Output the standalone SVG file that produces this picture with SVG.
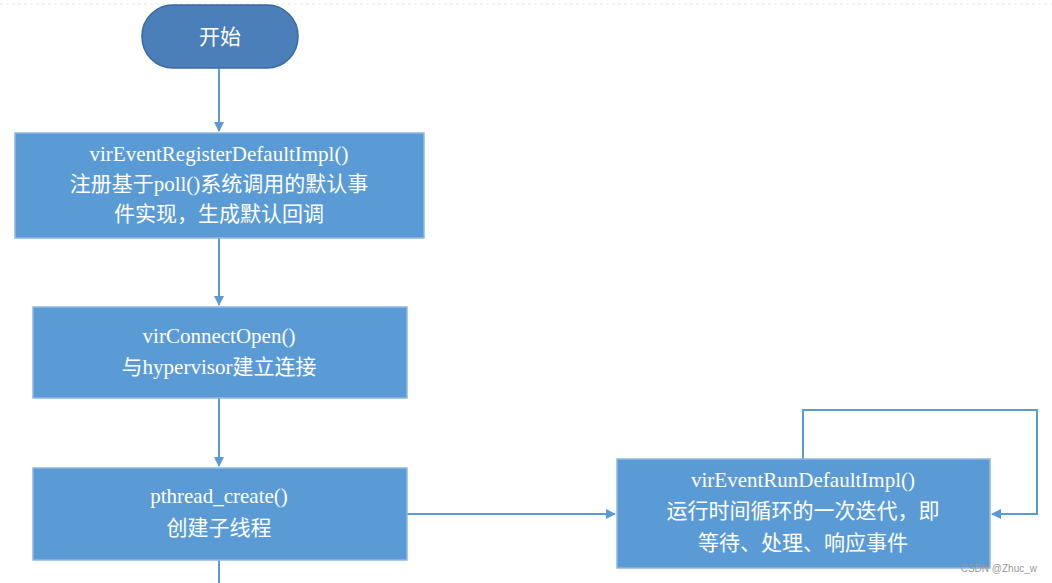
<svg xmlns="http://www.w3.org/2000/svg" width="1052" height="583" viewBox="0 0 1052 583">
<defs>
<style>
.box{fill:#5b9bd5;stroke:#8fb8e3;stroke-width:1.5}
.t{fill:#fff;font-family:"Liberation Serif","Noto Sans CJK SC",serif;font-size:21px;text-anchor:middle}
.m{font-family:"Liberation Mono","Noto Sans CJK SC",monospace}
.c{fill:none;stroke:#5b9bd5;stroke-width:2}
</style>
<marker id="a" markerWidth="10" markerHeight="10" refX="9" refY="5" orient="auto" markerUnits="userSpaceOnUse"><path d="M0,0 L10,5 L0,10 z" fill="#5b9bd5"/></marker>
</defs>
<rect width="1052" height="583" fill="#fff"/>
<line x1="0" y1="4" x2="1052" y2="4" stroke="#e6e6e6" stroke-dasharray="3,3"/>
<g id="connectors">
<path class="c" d="M219,69 V131" marker-end="url(#a)"/>
<path class="c" d="M219,238 V305" marker-end="url(#a)"/>
<path class="c" d="M219,398 V466" marker-end="url(#a)"/>
<path class="c" d="M219,560 V583"/>
<path class="c" d="M407,514 H615" marker-end="url(#a)"/>
<path class="c" d="M803,459 V410 H1037 V514 H992" marker-end="url(#a)"/>
</g>
<g id="start"><rect x="142" y="5" width="156" height="63" rx="31" fill="#4a7fb9" stroke="#3a6a9e" stroke-width="1.5"/><text class="t" x="220" y="44">开始</text></g>
<g id="n1"><rect class="box" x="15" y="133" width="409" height="105"/>
<text class="t" x="219" y="161">virEventRegisterDefaultImpl()</text>
<text class="t" x="219" y="191">注册基于poll()系统调用的默认事</text>
<text class="t" x="219" y="221">件实现，生成默认回调</text></g>
<g id="n2"><rect class="box" x="33" y="307" width="374" height="91"/>
<text class="t" x="219" y="343">virConnectOpen()</text>
<text class="t" x="219" y="374">与hypervisor建立连接</text></g>
<g id="n3"><rect class="box" x="33" y="468" width="374" height="92"/>
<text class="t" x="219" y="503">pthread_create()</text>
<text class="t" x="219" y="535">创建子线程</text></g>
<g id="n4"><rect class="box" x="617" y="459" width="373" height="109"/>
<text class="t" x="803" y="487">virEventRunDefaultImpl()</text>
<text class="t" x="803" y="518">运行时间循环的一次迭代，即</text>
<text class="t" x="803" y="550">等待、处理、响应事件</text></g>
<text x="1037" y="572" font-family="Liberation Sans,sans-serif" font-size="10" fill="#999" text-anchor="end">CSDN @Zhuc_w</text>
</svg>
